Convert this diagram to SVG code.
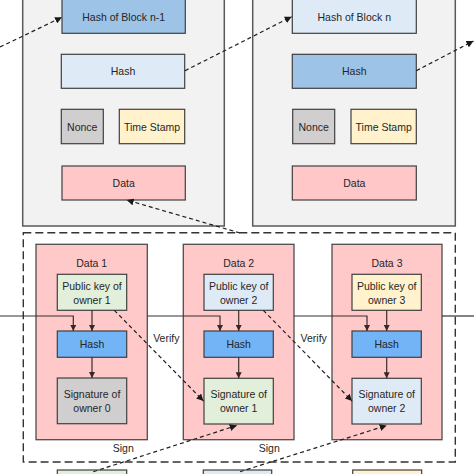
<svg xmlns="http://www.w3.org/2000/svg" width="474" height="474" viewBox="0 0 474 474">
<defs>
<marker id="ah" viewBox="0 0 10 10" refX="10" refY="5" markerWidth="7" markerHeight="7" markerUnits="userSpaceOnUse" orient="auto">
<path d="M0,0 L10,5 L0,10 z" fill="#1a1a1a"/>
</marker>
<marker id="ahs" viewBox="0 0 10 10" refX="10" refY="5" markerWidth="6" markerHeight="6" markerUnits="userSpaceOnUse" orient="auto">
<path d="M0,0 L10,5 L0,10 z" fill="#3a2626"/>
</marker>
<style>
text{font-family:"Liberation Sans",Arial,sans-serif;font-size:10.5px;fill:#262626;text-anchor:middle;dominant-baseline:central}
.blk{fill:#f2f2f2;stroke:#595959;stroke-width:1.5}
.bx{stroke:#404040;stroke-width:1.2}
.mblue{fill:#9dc3e6}
.lblue{fill:#deebf7}
.gray{fill:#d0cece}
.yel{fill:#fff2cc}
.pink{fill:#ffc7c7}
.green{fill:#e2efda}
.hblue{fill:#72b4f5}
.panel{fill:#ffc9c9;stroke:#4d4d4d;stroke-width:1.3}
.dash{fill:none;stroke:#1f1f1f;stroke-width:1.2;stroke-dasharray:4 3}
.solid{fill:none;stroke:#3a2e2e;stroke-width:1.2}
</style>
</defs>

<g id="block-n-1">
<rect class="blk" x="22.7" y="-10" width="201.6" height="236"/>
<rect class="bx mblue" x="62" y="-1" width="123.3" height="34.3"/>
<text x="123.7" y="16.7">Hash of Block n-1</text>
<rect class="bx lblue" x="61.3" y="54.3" width="123.4" height="34"/>
<text x="123" y="71.3">Hash</text>
<rect class="bx gray" x="61.3" y="109.3" width="42" height="34.4"/>
<text x="82.3" y="126.5">Nonce</text>
<rect class="bx yel" x="119.3" y="109.3" width="65.4" height="34.4"/>
<text x="152" y="126.5">Time Stamp</text>
<rect class="bx pink" x="62" y="166" width="123.3" height="34"/>
<text x="123.7" y="183">Data</text>
</g>

<g id="block-n">
<rect class="blk" x="252.7" y="-10" width="202.6" height="236"/>
<rect class="bx lblue" x="292.3" y="-1" width="124" height="34.3"/>
<text x="354.3" y="16.7">Hash of Block n</text>
<rect class="bx mblue" x="292.3" y="54.3" width="124" height="34"/>
<text x="354.3" y="71.3">Hash</text>
<rect class="bx gray" x="292.7" y="109.3" width="42" height="34.4"/>
<text x="313.7" y="126.5">Nonce</text>
<rect class="bx yel" x="351" y="109.3" width="65.3" height="34.4"/>
<text x="383.7" y="126.5">Time Stamp</text>
<rect class="bx pink" x="292.3" y="166" width="124" height="34"/>
<text x="354.3" y="183">Data</text>
</g>

<g id="transactions">
<rect x="23.3" y="232.7" width="432" height="229.3" fill="none" stroke="#333" stroke-width="1.4" stroke-dasharray="8 4"/>
</g>

<g id="data1">
<rect class="panel" x="36" y="244.3" width="111.3" height="195.4"/>
<text x="91.7" y="262.7">Data 1</text>
<rect class="bx green" x="57.3" y="274.3" width="69.4" height="36"/>
<text x="92" y="285.7">Public key of</text>
<text x="92" y="299.7">owner 1</text>
<rect class="bx hblue" x="57.3" y="331" width="69.4" height="26.3"/>
<text x="92" y="344">Hash</text>
<rect class="bx gray" x="57.3" y="378" width="69.4" height="45.7"/>
<text x="92" y="393.7">Signature of</text>
<text x="92" y="408">owner 0</text>
</g>

<g id="data2">
<rect class="panel" x="183.3" y="244.3" width="110.7" height="195.4"/>
<text x="238.7" y="262.7">Data 2</text>
<rect class="bx lblue" x="204" y="274.3" width="69.3" height="36"/>
<text x="238.7" y="285.7">Public key of</text>
<text x="238.7" y="299.7">owner 2</text>
<rect class="bx hblue" x="204" y="331" width="69.3" height="26.3"/>
<text x="238.7" y="344">Hash</text>
<rect class="bx green" x="204" y="378.3" width="69.3" height="45.7"/>
<text x="238.7" y="393.7">Signature of</text>
<text x="238.7" y="408">owner 1</text>
</g>

<g id="data3">
<rect class="panel" x="332" y="244.3" width="110" height="195.4"/>
<text x="387" y="262.7">Data 3</text>
<rect class="bx yel" x="352" y="274.3" width="69.3" height="36"/>
<text x="386.7" y="285.7">Public key of</text>
<text x="386.7" y="299.7">owner 3</text>
<rect class="bx hblue" x="352" y="331" width="69.3" height="26.3"/>
<text x="386.7" y="344">Hash</text>
<rect class="bx lblue" x="352" y="378.3" width="69.3" height="45.7"/>
<text x="386.7" y="393.7">Signature of</text>
<text x="386.7" y="408">owner 2</text>
</g>

<g id="next-row">
<rect class="bx green" x="57.3" y="470" width="69.4" height="12"/>
<rect class="bx lblue" x="203.3" y="470" width="68.4" height="12"/>
<rect class="bx yel" x="352.7" y="470" width="69" height="12"/>
</g>

<g id="connectors">
<line class="dash" x1="0" y1="47" x2="62" y2="17.3" marker-end="url(#ah)"/>
<line class="dash" x1="185" y1="70.7" x2="291.7" y2="16.7" marker-end="url(#ah)"/>
<line class="dash" x1="416.3" y1="70.7" x2="473.5" y2="41" marker-end="url(#ah)"/>
<line class="dash" x1="240" y1="233" x2="126.7" y2="200" marker-end="url(#ah)"/>

<path class="solid" d="M0 316 H73.3 V331" marker-end="url(#ahs)"/>
<path class="solid" d="M92 310.3 V331" marker-end="url(#ahs)"/>
<path class="solid" d="M92 357.3 V378" marker-end="url(#ahs)"/>
<path class="solid" d="M147.3 316 H220 V331" marker-end="url(#ahs)"/>
<path class="solid" d="M238.7 310.3 V331" marker-end="url(#ahs)"/>
<path class="solid" d="M238.7 357.3 V378.3" marker-end="url(#ahs)"/>
<path class="solid" d="M294 316 H367 V331" marker-end="url(#ahs)"/>
<path class="solid" d="M386.7 310.3 V331" marker-end="url(#ahs)"/>
<path class="solid" d="M386.7 357.3 V378.3" marker-end="url(#ahs)"/>
<path class="solid" d="M442 316 H474"/>

<line class="dash" x1="114.3" y1="310.3" x2="203.5" y2="401" marker-end="url(#ah)"/>
<line class="dash" x1="263.3" y1="310.3" x2="352" y2="401" marker-end="url(#ah)"/>
<line class="dash" x1="93.3" y1="471.7" x2="236.7" y2="425.5" marker-end="url(#ah)"/>
<line class="dash" x1="240" y1="471.7" x2="386.7" y2="425.5" marker-end="url(#ah)"/>

<text x="166.3" y="338">Verify</text>
<text x="313.7" y="338">Verify</text>
<text x="123.3" y="448.3">Sign</text>
<text x="269.3" y="448.3">Sign</text>
</g>
</svg>
